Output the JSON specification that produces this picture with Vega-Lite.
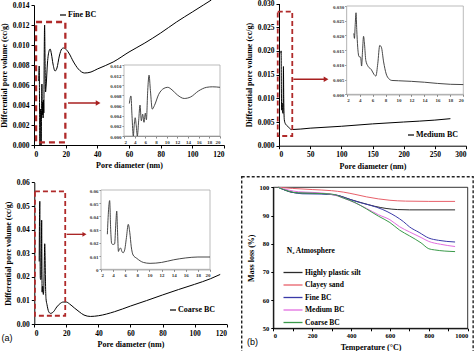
{
  "$schema": "https://vega.github.io/schema/vega-lite/v6.json",
  "width": 474,
  "height": 351,
  "autosize": {"type": "none"},
  "padding": 0,
  "background": "white",
  "config": {
    "view": {"stroke": null},
    "axis": {"grid": false, "labelFont": "Liberation Serif", "titleFont": "Liberation Serif", "labelFontWeight": "bold", "titleFontWeight": "bold", "domainColor": "black", "tickColor": "black", "labelColor": "black", "titleColor": "black", "labelFontSize": 7.5, "titleFontSize": 8, "tickSize": 3, "labelPadding": 2, "titlePadding": 4},
    "legend": {"labelFont": "Liberation Serif", "labelFontWeight": "bold", "labelColor": "black", "padding": 0}
  },
  "datasets": {
    "fine": [
      {"d": 3.0, "v": 0.0064}, {"d": 3.3, "v": 0.0079}, {"d": 3.5, "v": 0.004}, {"d": 3.75, "v": 0}, {"d": 3.9, "v": 0.002}, {"d": 4.1, "v": 0.0036}, {"d": 4.3, "v": 0.002}, {"d": 4.5, "v": 0}, {"d": 4.75, "v": 0.003}, {"d": 5.0, "v": 0.0061}, {"d": 5.25, "v": 0.003}, {"d": 5.5, "v": 0.0043}, {"d": 5.75, "v": 0.0027}, {"d": 6.0, "v": 0.0045}, {"d": 6.2, "v": 0.0032}, {"d": 6.45, "v": 0.009}, {"d": 6.7, "v": 0.012}, {"d": 6.95, "v": 0.009}, {"d": 7.3, "v": 0.0053}, {"d": 7.7, "v": 0.006}, {"d": 8.5, "v": 0.0082}, {"d": 9.5, "v": 0.0094}, {"d": 10.2, "v": 0.0096}, {"d": 11, "v": 0.0091}, {"d": 12, "v": 0.0081}, {"d": 13.3, "v": 0.0074}, {"d": 14.5, "v": 0.0077}, {"d": 16, "v": 0.0089}, {"d": 17.5, "v": 0.0096}, {"d": 18.6, "v": 0.0097}, {"d": 20, "v": 0.0096},
      {"d": 22, "v": 0.0092}, {"d": 25, "v": 0.0083}, {"d": 28, "v": 0.0076}, {"d": 32, "v": 0.0072}, {"d": 36, "v": 0.0073}, {"d": 40, "v": 0.0076}, {"d": 50, "v": 0.0083}, {"d": 60, "v": 0.0093}, {"d": 70, "v": 0.0102}, {"d": 80, "v": 0.0112}, {"d": 90, "v": 0.0123}, {"d": 100, "v": 0.0133}, {"d": 107, "v": 0.014}, {"d": 112, "v": 0.0145}
    ],
    "medium_main": [
      {"d": 3, "v": 0.0195}, {"d": 3.4, "v": 0.02}, {"d": 3.8, "v": 0.012}, {"d": 4.4, "v": 0.0075}, {"d": 5, "v": 0.009}, {"d": 5.8, "v": 0.007}, {"d": 6.6, "v": 0.0068}, {"d": 7.1, "v": 0.0167}, {"d": 7.6, "v": 0.01}, {"d": 8.5, "v": 0.0055}, {"d": 10, "v": 0.0047}, {"d": 14, "v": 0.0041}, {"d": 20, "v": 0.0034}, {"d": 50, "v": 0.0037}, {"d": 100, "v": 0.0041}, {"d": 150, "v": 0.0046}, {"d": 200, "v": 0.005}, {"d": 250, "v": 0.0054}, {"d": 275, "v": 0.0057}
    ],
    "medium_inset": [
      {"d": 3.1, "v": 0.0207}, {"d": 3.2, "v": 0.019}, {"d": 3.3, "v": 0.023}, {"d": 3.44, "v": 0.0277}, {"d": 3.55, "v": 0.022}, {"d": 3.7, "v": 0.016}, {"d": 3.9, "v": 0.0128}, {"d": 4.15, "v": 0.0126}, {"d": 4.3, "v": 0.0096}, {"d": 4.45, "v": 0.015}, {"d": 4.6, "v": 0.0197}, {"d": 4.75, "v": 0.017}, {"d": 4.95, "v": 0.0115}, {"d": 5.3, "v": 0.0095}, {"d": 5.8, "v": 0.0084}, {"d": 6.2, "v": 0.0068}, {"d": 6.5, "v": 0.0062}, {"d": 6.8, "v": 0.0105}, {"d": 7.1, "v": 0.0166}, {"d": 7.35, "v": 0.016}, {"d": 7.7, "v": 0.011}, {"d": 8.1, "v": 0.0069}, {"d": 8.5, "v": 0.0053}, {"d": 9, "v": 0.0047}, {"d": 10, "v": 0.0046}, {"d": 12, "v": 0.0044}, {"d": 14, "v": 0.0041}, {"d": 16, "v": 0.0037}, {"d": 18, "v": 0.0034}, {"d": 20, "v": 0.0033}
    ],
    "coarse": [
      {"d": 3.05, "v": 0.0265}, {"d": 3.25, "v": 0.045}, {"d": 3.43, "v": 0.052}, {"d": 3.6, "v": 0.03}, {"d": 3.76, "v": 0.0195}, {"d": 4.0, "v": 0.0188}, {"d": 4.25, "v": 0.0192}, {"d": 4.45, "v": 0.035}, {"d": 4.6, "v": 0.044}, {"d": 4.72, "v": 0.03}, {"d": 4.88, "v": 0.0135}, {"d": 5.05, "v": 0.0155}, {"d": 5.25, "v": 0.016}, {"d": 5.45, "v": 0.0135}, {"d": 5.65, "v": 0.0125}, {"d": 5.9, "v": 0.0145}, {"d": 6.2, "v": 0.024}, {"d": 6.5, "v": 0.034}, {"d": 6.75, "v": 0.028}, {"d": 7.0, "v": 0.017}, {"d": 7.3, "v": 0.0108}, {"d": 7.9, "v": 0.0083}, {"d": 9, "v": 0.0052}, {"d": 10.1, "v": 0.0045}, {"d": 12, "v": 0.0052}, {"d": 14, "v": 0.0072}, {"d": 16, "v": 0.0086}, {"d": 18, "v": 0.0093}, {"d": 20, "v": 0.0093},
      {"d": 22, "v": 0.0085}, {"d": 25, "v": 0.0068}, {"d": 28, "v": 0.0052}, {"d": 31, "v": 0.0038}, {"d": 35, "v": 0.0032}, {"d": 40, "v": 0.0035}, {"d": 50, "v": 0.0052}, {"d": 60, "v": 0.0076}, {"d": 70, "v": 0.0099}, {"d": 80, "v": 0.0123}, {"d": 90, "v": 0.0146}, {"d": 100, "v": 0.0168}, {"d": 110, "v": 0.0192}, {"d": 116, "v": 0.021}
    ],
    "tga": [
      {"s": "Highly plastic silt", "T": 25, "m": 100}, {"s": "Highly plastic silt", "T": 60, "m": 99}, {"s": "Highly plastic silt", "T": 90, "m": 98.3}, {"s": "Highly plastic silt", "T": 130, "m": 98}, {"s": "Highly plastic silt", "T": 200, "m": 97.9}, {"s": "Highly plastic silt", "T": 280, "m": 97.6}, {"s": "Highly plastic silt", "T": 340, "m": 97}, {"s": "Highly plastic silt", "T": 400, "m": 95.6}, {"s": "Highly plastic silt", "T": 460, "m": 94.4}, {"s": "Highly plastic silt", "T": 520, "m": 93.3}, {"s": "Highly plastic silt", "T": 580, "m": 92.5}, {"s": "Highly plastic silt", "T": 640, "m": 92.1}, {"s": "Highly plastic silt", "T": 700, "m": 92}, {"s": "Highly plastic silt", "T": 935, "m": 92},
      {"s": "Clayey sand", "T": 25, "m": 100}, {"s": "Clayey sand", "T": 100, "m": 99.6}, {"s": "Clayey sand", "T": 200, "m": 99.2}, {"s": "Clayey sand", "T": 300, "m": 98.8}, {"s": "Clayey sand", "T": 360, "m": 98.3}, {"s": "Clayey sand", "T": 420, "m": 97.5}, {"s": "Clayey sand", "T": 480, "m": 96.6}, {"s": "Clayey sand", "T": 540, "m": 95.9}, {"s": "Clayey sand", "T": 600, "m": 95.4}, {"s": "Clayey sand", "T": 680, "m": 95.1}, {"s": "Clayey sand", "T": 800, "m": 95}, {"s": "Clayey sand", "T": 935, "m": 95},
      {"s": "Fine BC", "T": 25, "m": 100}, {"s": "Fine BC", "T": 60, "m": 99}, {"s": "Fine BC", "T": 100, "m": 98.2}, {"s": "Fine BC", "T": 150, "m": 97.7}, {"s": "Fine BC", "T": 250, "m": 97.6}, {"s": "Fine BC", "T": 320, "m": 97.3}, {"s": "Fine BC", "T": 380, "m": 96}, {"s": "Fine BC", "T": 440, "m": 94.7}, {"s": "Fine BC", "T": 500, "m": 93.6}, {"s": "Fine BC", "T": 560, "m": 92.2}, {"s": "Fine BC", "T": 610, "m": 90.5}, {"s": "Fine BC", "T": 650, "m": 88.8}, {"s": "Fine BC", "T": 670, "m": 87.8}, {"s": "Fine BC", "T": 700, "m": 86}, {"s": "Fine BC", "T": 750, "m": 84}, {"s": "Fine BC", "T": 800, "m": 82}, {"s": "Fine BC", "T": 850, "m": 81.2}, {"s": "Fine BC", "T": 935, "m": 80.6},
      {"s": "Medium BC", "T": 25, "m": 100}, {"s": "Medium BC", "T": 80, "m": 99}, {"s": "Medium BC", "T": 130, "m": 98.4}, {"s": "Medium BC", "T": 200, "m": 98.2}, {"s": "Medium BC", "T": 300, "m": 97.5}, {"s": "Medium BC", "T": 360, "m": 96.2}, {"s": "Medium BC", "T": 420, "m": 94.5}, {"s": "Medium BC", "T": 480, "m": 92.5}, {"s": "Medium BC", "T": 540, "m": 90.3}, {"s": "Medium BC", "T": 600, "m": 88.5}, {"s": "Medium BC", "T": 650, "m": 86}, {"s": "Medium BC", "T": 700, "m": 84.2}, {"s": "Medium BC", "T": 760, "m": 82.2}, {"s": "Medium BC", "T": 800, "m": 80.8}, {"s": "Medium BC", "T": 860, "m": 79.8}, {"s": "Medium BC", "T": 935, "m": 79},
      {"s": "Coarse BC", "T": 25, "m": 100}, {"s": "Coarse BC", "T": 80, "m": 98.6}, {"s": "Coarse BC", "T": 130, "m": 98}, {"s": "Coarse BC", "T": 200, "m": 97.9}, {"s": "Coarse BC", "T": 300, "m": 97.6}, {"s": "Coarse BC", "T": 360, "m": 96.2}, {"s": "Coarse BC", "T": 420, "m": 94.6}, {"s": "Coarse BC", "T": 480, "m": 92.3}, {"s": "Coarse BC", "T": 540, "m": 89.8}, {"s": "Coarse BC", "T": 600, "m": 87.5}, {"s": "Coarse BC", "T": 650, "m": 84.8}, {"s": "Coarse BC", "T": 700, "m": 82.8}, {"s": "Coarse BC", "T": 760, "m": 80.3}, {"s": "Coarse BC", "T": 800, "m": 78.2}, {"s": "Coarse BC", "T": 830, "m": 77.8}, {"s": "Coarse BC", "T": 935, "m": 77.2}
    ]
  },
  "layer": [
    {
      "layer": [
        {
          "data": {"name": "fine"},
          "mark": {"type": "line", "strokeWidth": 1, "interpolate": "monotone"},
          "encoding": {
            "x": {"field": "d", "type": "quantitative", "scale": {"domain": [0, 120], "range": [34, 224], "nice": false, "zero": false}, "axis": {"orient": "bottom", "offset": -206, "values": [0, 20, 40, 60, 80, 100, 120], "title": "Pore diameter (nm)"}},
            "y": {"field": "v", "type": "quantitative", "scale": {"domain": [0, 0.014], "range": [145, 5], "nice": false, "zero": false}, "axis": {"orient": "left", "offset": -34, "values": [0, 0.002, 0.004, 0.006, 0.008, 0.01, 0.012, 0.014], "format": ".3f", "title": "Differential pore volume (cc/g)"}},
            "color": {"datum": "Fine BC", "scale": {"domain": ["Fine BC"], "range": ["black"]}, "legend": {"orient": "none", "legendX": 59, "legendY": 11, "title": null, "symbolType": "stroke", "symbolSize": 36, "symbolStrokeWidth": 1.2, "labelFontSize": 8, "labelOffset": 1}}
          }
        },
        {
          "data": {"values": [{"d": 1.3, "d2": 19.8, "v": 0.00027, "v2": 0.0123}]},
          "mark": {"type": "rect", "fill": null, "fillOpacity": 0, "stroke": "#b02a2a", "strokeWidth": 2.3, "strokeDash": [6, 4]},
          "encoding": {"x": {"field": "d", "type": "quantitative"}, "x2": {"field": "d2"}, "y": {"field": "v", "type": "quantitative"}, "y2": {"field": "v2"}}
        },
        {
          "data": {"values": [{"d": 21.5, "d2": 40, "v": 0.0042}]},
          "mark": {"type": "rule", "color": "#a82020", "strokeWidth": 1.5},
          "encoding": {"x": {"field": "d", "type": "quantitative"}, "x2": {"field": "d2"}, "y": {"field": "v", "type": "quantitative"}}
        },
        {
          "data": {"values": [{"d": 40.5, "v": 0.0042}]},
          "mark": {"type": "point", "shape": "triangle-right", "filled": true, "color": "#a82020", "size": 30, "opacity": 1},
          "encoding": {"x": {"field": "d", "type": "quantitative"}, "y": {"field": "v", "type": "quantitative"}}
        }
      ]
    },
    {
      "layer": [
        {
          "data": {"values": [{"d": 2, "d2": 20, "v": 0, "v2": 0.014}]},
          "mark": {"type": "rect", "fill": "white", "stroke": "#aaaaaa", "strokeWidth": 0.8},
          "encoding": {"x": {"field": "d", "type": "quantitative", "scale": {"domain": [2, 20], "range": [124, 220], "nice": false, "zero": false}, "axis": {"orient": "bottom", "offset": -215, "values": [2, 4, 6, 8, 10, 12, 14, 16, 18, 20], "title": null, "labelFontSize": 5, "labelColor": "#333", "domainColor": "#888", "tickColor": "#888", "tickSize": 2, "labelPadding": 1}}, "x2": {"field": "d2"}, "y": {"field": "v", "type": "quantitative", "scale": {"domain": [0, 0.014], "range": [136, 65], "nice": false, "zero": false}, "axis": {"orient": "left", "offset": -124, "values": [0, 0.002, 0.004, 0.006, 0.008, 0.01, 0.012, 0.014], "format": ".3f", "title": null, "labelFontSize": 5, "labelColor": "#333", "domainColor": "#888", "tickColor": "#888", "tickSize": 2, "labelPadding": 1}}, "y2": {"field": "v2"}}
        },
        {
          "data": {"name": "fine"},
          "transform": [{"filter": "datum.d <= 20"}],
          "mark": {"type": "line", "color": "#333", "strokeWidth": 0.9, "interpolate": "monotone"},
          "encoding": {"x": {"field": "d", "type": "quantitative"}, "y": {"field": "v", "type": "quantitative"}}
        }
      ]
    },
    {
      "layer": [
        {
          "data": {"name": "medium_main"},
          "mark": {"type": "line", "strokeWidth": 1, "interpolate": "monotone"},
          "encoding": {
            "x": {"field": "d", "type": "quantitative", "scale": {"domain": [0, 300], "range": [279, 466], "nice": false, "zero": false}, "axis": {"orient": "bottom", "offset": -205.3, "values": [0, 50, 100, 150, 200, 250, 300], "title": "Pore diameter (nm)"}},
            "y": {"field": "v", "type": "quantitative", "scale": {"domain": [0, 0.03], "range": [145.7, 3.5], "nice": false, "zero": false}, "axis": {"orient": "left", "offset": -279, "values": [0, 0.005, 0.01, 0.015, 0.02, 0.025, 0.03], "format": ".3f", "title": "Differential pore volume (cc/g)"}},
            "color": {"datum": "Medium BC", "scale": {"domain": ["Medium BC"], "range": ["black"]}, "legend": {"orient": "none", "legendX": 407, "legendY": 131, "title": null, "symbolType": "stroke", "symbolSize": 36, "symbolStrokeWidth": 1.2, "labelFontSize": 8, "labelOffset": 1}}
          }
        },
        {
          "data": {"values": [{"d": -2, "d2": 21.3, "v": 0.00205, "v2": 0.0283}]},
          "mark": {"type": "rect", "fill": null, "fillOpacity": 0, "stroke": "#b02a2a", "strokeWidth": 1.8, "strokeDash": [5, 3]},
          "encoding": {"x": {"field": "d", "type": "quantitative"}, "x2": {"field": "d2"}, "y": {"field": "v", "type": "quantitative"}, "y2": {"field": "v2"}}
        },
        {
          "data": {"values": [{"d": 23, "d2": 74, "v": 0.014}]},
          "mark": {"type": "rule", "color": "#a82020", "strokeWidth": 1.5},
          "encoding": {"x": {"field": "d", "type": "quantitative"}, "x2": {"field": "d2"}, "y": {"field": "v", "type": "quantitative"}}
        },
        {
          "data": {"values": [{"d": 75.5, "v": 0.014}]},
          "mark": {"type": "point", "shape": "triangle-right", "filled": true, "color": "#a82020", "size": 30, "opacity": 1},
          "encoding": {"x": {"field": "d", "type": "quantitative"}, "y": {"field": "v", "type": "quantitative"}}
        }
      ]
    },
    {
      "layer": [
        {
          "data": {"values": [{"d": 2, "d2": 20, "v": 0, "v2": 0.03}]},
          "mark": {"type": "rect", "fill": "white", "stroke": "#aaaaaa", "strokeWidth": 0.8},
          "encoding": {"x": {"field": "d", "type": "quantitative", "scale": {"domain": [2, 20], "range": [346.7, 463.3], "nice": false, "zero": false}, "axis": {"orient": "bottom", "offset": -256.7, "values": [2, 4, 6, 8, 10, 12, 14, 16, 18, 20], "title": null, "labelFontSize": 5, "labelColor": "#333", "domainColor": "#888", "tickColor": "#888", "tickSize": 2, "labelPadding": 1}}, "x2": {"field": "d2"}, "y": {"field": "v", "type": "quantitative", "scale": {"domain": [0, 0.03], "range": [94.3, 6], "nice": false, "zero": false}, "axis": {"orient": "left", "offset": -346.7, "values": [0, 0.005, 0.01, 0.015, 0.02, 0.025, 0.03], "format": ".3f", "title": null, "labelFontSize": 5, "labelColor": "#333", "domainColor": "#888", "tickColor": "#888", "tickSize": 2, "labelPadding": 1}}, "y2": {"field": "v2"}}
        },
        {
          "data": {"name": "medium_inset"},
          "mark": {"type": "line", "color": "#333", "strokeWidth": 0.9, "interpolate": "monotone"},
          "encoding": {"x": {"field": "d", "type": "quantitative"}, "y": {"field": "v", "type": "quantitative"}}
        }
      ]
    },
    {
      "layer": [
        {
          "data": {"name": "coarse"},
          "mark": {"type": "line", "strokeWidth": 1, "interpolate": "monotone"},
          "encoding": {
            "x": {"field": "d", "type": "quantitative", "scale": {"domain": [0, 120], "range": [34.3, 226.6], "nice": false, "zero": false}, "axis": {"orient": "bottom", "offset": -27, "values": [0, 20, 40, 60, 80, 100, 120], "title": "Pore diameter (nm)"}},
            "y": {"field": "v", "type": "quantitative", "scale": {"domain": [0, 0.06], "range": [324, 182.4], "nice": false, "zero": false}, "axis": {"orient": "left", "offset": -34.3, "values": [0, 0.01, 0.02, 0.03, 0.04, 0.05, 0.06], "format": ".2f", "title": "Differential pore volume (cc/g)"}},
            "color": {"datum": "Coarse BC", "scale": {"domain": ["Coarse BC"], "range": ["black"]}, "legend": {"orient": "none", "legendX": 169, "legendY": 306, "title": null, "symbolType": "stroke", "symbolSize": 36, "symbolStrokeWidth": 1.2, "labelFontSize": 8, "labelOffset": 1}}
          }
        },
        {
          "data": {"values": [{"d": 0.4, "d2": 19.3, "v": 0.0035, "v2": 0.0562}]},
          "mark": {"type": "rect", "fill": null, "fillOpacity": 0, "stroke": "#b02a2a", "strokeWidth": 1.8, "strokeDash": [5, 3]},
          "encoding": {"x": {"field": "d", "type": "quantitative"}, "x2": {"field": "d2"}, "y": {"field": "v", "type": "quantitative"}, "y2": {"field": "v2"}}
        },
        {
          "data": {"values": [{"d": 20.2, "d2": 30.5, "v": 0.038}]},
          "mark": {"type": "rule", "color": "#a82020", "strokeWidth": 1.3},
          "encoding": {"x": {"field": "d", "type": "quantitative"}, "x2": {"field": "d2"}, "y": {"field": "v", "type": "quantitative"}}
        },
        {
          "data": {"values": [{"d": 31.3, "v": 0.038}]},
          "mark": {"type": "point", "shape": "triangle-right", "filled": true, "color": "#a82020", "size": 22, "opacity": 1},
          "encoding": {"x": {"field": "d", "type": "quantitative"}, "y": {"field": "v", "type": "quantitative"}}
        },
        {
          "data": {"values": [{"d": -17, "v": -0.0059, "t": "(a)"}]},
          "mark": {"type": "text", "font": "Liberation Sans", "fontSize": 9, "align": "center", "baseline": "middle", "color": "black"},
          "encoding": {"x": {"field": "d", "type": "quantitative"}, "y": {"field": "v", "type": "quantitative"}, "text": {"field": "t"}}
        }
      ]
    },
    {
      "layer": [
        {
          "data": {"values": [{"d": 2, "d2": 20, "v": 0, "v2": 0.06}]},
          "mark": {"type": "rect", "fill": "white", "stroke": "#aaaaaa", "strokeWidth": 0.8},
          "encoding": {"x": {"field": "d", "type": "quantitative", "scale": {"domain": [2, 20], "range": [101, 210], "nice": false, "zero": false}, "axis": {"orient": "bottom", "offset": -81.7, "values": [2, 4, 6, 8, 10, 12, 14, 16, 18, 20], "title": null, "labelFontSize": 5, "labelColor": "#333", "domainColor": "#888", "tickColor": "#888", "tickSize": 2, "labelPadding": 1}}, "x2": {"field": "d2"}, "y": {"field": "v", "type": "quantitative", "scale": {"domain": [0, 0.06], "range": [269.3, 190], "nice": false, "zero": false}, "axis": {"orient": "left", "offset": -101, "values": [0, 0.01, 0.02, 0.03, 0.04, 0.05, 0.06], "labelExpr": "datum.value == 0 ? '0' : format(datum.value, '.2f')", "title": null, "labelFontSize": 5, "labelColor": "#333", "domainColor": "#888", "tickColor": "#888", "tickSize": 2, "labelPadding": 1}}, "y2": {"field": "v2"}}
        },
        {
          "data": {"name": "coarse"},
          "transform": [{"filter": "datum.d <= 20"}],
          "mark": {"type": "line", "color": "#333", "strokeWidth": 0.9, "interpolate": "monotone"},
          "encoding": {"x": {"field": "d", "type": "quantitative"}, "y": {"field": "v", "type": "quantitative"}}
        }
      ]
    },
    {
      "layer": [
        {
          "data": {"values": [{"T": -162.5, "T2": 1028, "m": 41, "m2": 103.76}]},
          "mark": {"type": "rect", "fill": null, "fillOpacity": 0, "stroke": "#222", "strokeWidth": 1.4, "strokeDash": [3, 2]},
          "encoding": {"x": {"field": "T", "type": "quantitative", "scale": {"domain": [0, 1000], "range": [273.3, 467.7], "nice": false, "zero": false}, "axis": {"orient": "bottom", "offset": -22.7, "values": [0, 100, 200, 300, 400, 500, 600, 700, 800, 900, 1000], "labelExpr": "datum.value % 200 == 0 ? format(datum.value, 'd') : ''", "title": "Temperature (°C)", "labelFontSize": 6.5, "tickSize": 2.5}}, "x2": {"field": "T2"}, "y": {"field": "m", "type": "quantitative", "scale": {"domain": [50, 100], "range": [328.3, 187.3], "nice": false, "zero": false}, "axis": {"orient": "left", "offset": -273.3, "values": [50, 60, 70, 80, 90, 100], "title": "Mass loss (%)", "labelFontSize": 6.5, "tickSize": 2.5}}, "y2": {"field": "m2"}}
        },
        {
          "data": {"values": [{"T": 0, "T2": 1000, "m": 50, "m2": 100}]},
          "mark": {"type": "rect", "fill": null, "fillOpacity": 0, "stroke": "black", "strokeWidth": 0.8},
          "encoding": {"x": {"field": "T", "type": "quantitative"}, "x2": {"field": "T2"}, "y": {"field": "m", "type": "quantitative"}, "y2": {"field": "m2"}}
        },
        {
          "data": {"name": "tga"},
          "mark": {"type": "line", "strokeWidth": 1, "interpolate": "monotone"},
          "encoding": {
            "x": {"field": "T", "type": "quantitative"},
            "y": {"field": "m", "type": "quantitative"},
            "color": {"field": "s", "type": "nominal", "sort": ["Highly plastic silt", "Clayey sand", "Fine BC", "Medium BC", "Coarse BC"], "scale": {"domain": ["Highly plastic silt", "Clayey sand", "Fine BC", "Medium BC", "Coarse BC"], "range": ["#2b2b2b", "#e8606a", "#3a3aa8", "#e26ee0", "#3a9a4a"]}, "legend": {"orient": "none", "legendX": 287, "legendY": 266.5, "title": null, "symbolType": "M-1.9,0H1.9", "symbolSize": 100, "symbolStrokeWidth": 1.3, "labelFontSize": 7.5, "labelOffset": 6, "rowPadding": 2.5}}
          }
        },
        {
          "data": {"values": [{"T": 69, "m": 77.4, "t": "N₂ Atmosphere"}]},
          "mark": {"type": "text", "align": "left", "baseline": "middle", "color": "black", "font": "Liberation Serif", "fontWeight": "bold", "fontSize": 7.5},
          "encoding": {"x": {"field": "T", "type": "quantitative"}, "y": {"field": "m", "type": "quantitative"}, "text": {"field": "t"}}
        },
        {
          "data": {"values": [{"T": -135, "m": 45.1, "t": "(b)"}]},
          "mark": {"type": "text", "align": "left", "baseline": "middle", "color": "black", "font": "Liberation Sans", "fontSize": 9},
          "encoding": {"x": {"field": "T", "type": "quantitative"}, "y": {"field": "m", "type": "quantitative"}, "text": {"field": "t"}}
        }
      ]
    }
  ],
  "resolve": {"scale": {"x": "independent", "y": "independent", "color": "independent"}}
}
